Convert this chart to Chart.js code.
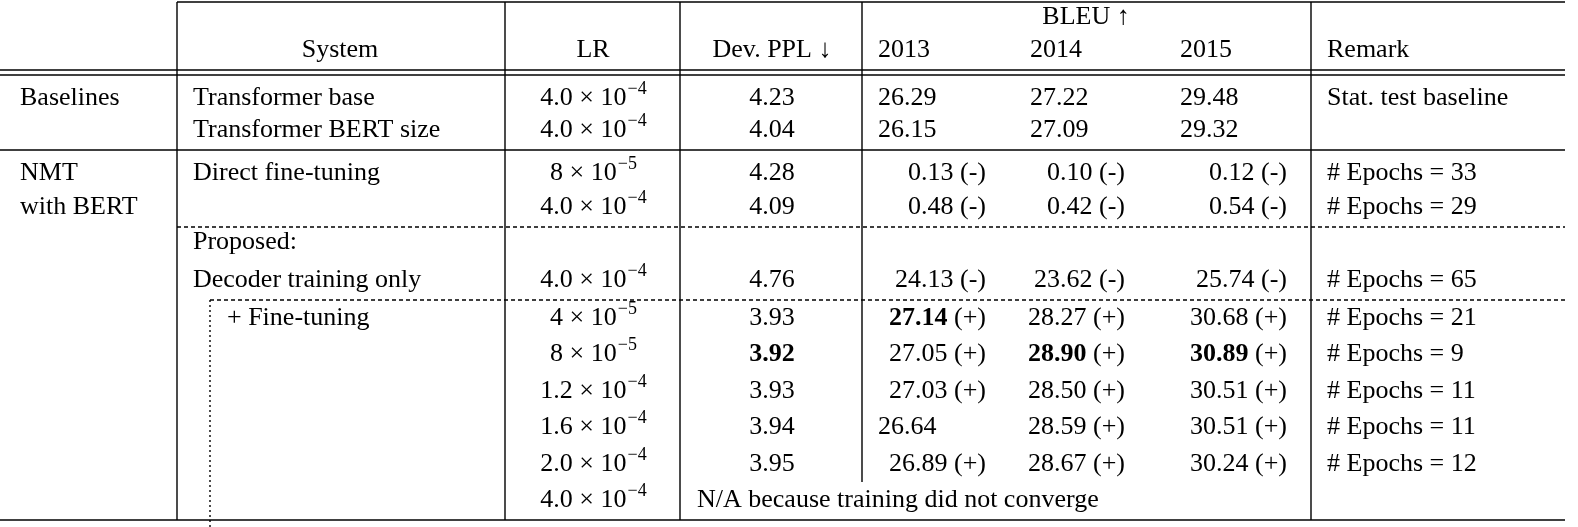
<!DOCTYPE html>
<html>
<head>
<meta charset="utf-8">
<script src="https://cdn.jsdelivr.net/npm/chart.js@4/dist/chart.umd.min.js"></script>
<style>
  html, body { margin: 0; padding: 0; background: #fff; overflow: hidden; }
</style>
</head>
<body>
<canvas id="tbl" width="1578" height="527" style="width:1578px;height:527px;display:block"></canvas>
<script>
// ---- данные таблицы ----
const headers = ['System', 'LR', 'Dev. PPL \u2193', '2013', '2014', '2015', 'Remark'];
const groupTitle = 'BLEU \u2191';
const groups = [['Baselines'], ['NMT', 'with BERT']];
const systems = ['Transformer base', 'Transformer BERT size', 'Direct fine-tuning', '', 'Proposed:',
  'Decoder training only', '+ Fine-tuning', '', '', '', '', ''];
const lrMant = ['4.0', '4.0', '8', '4.0', '', '4.0', '4', '8', '1.2', '1.6', '2.0', '4.0'];
const lrExp = ['-4', '-4', '-5', '-4', '', '-4', '-5', '-5', '-4', '-4', '-4', '-4'];
const ppl = ['4.23', '4.04', '4.28', '4.09', '', '4.76', '3.93', '**3.92**', '3.93', '3.94', '3.95', ''];
const bleu2013 = ['26.29', '26.15', '0.13 (-)', '0.48 (-)', '', '24.13 (-)', '**27.14** (+)', '27.05 (+)', '27.03 (+)', '26.64', '26.89 (+)', ''];
const bleu2014 = ['27.22', '27.09', '0.10 (-)', '0.42 (-)', '', '23.62 (-)', '28.27 (+)', '**28.90** (+)', '28.50 (+)', '28.59 (+)', '28.67 (+)', ''];
const bleu2015 = ['29.48', '29.32', '0.12 (-)', '0.54 (-)', '', '25.74 (-)', '30.68 (+)', '**30.89** (+)', '30.51 (+)', '30.51 (+)', '30.24 (+)', ''];
const remarks = ['Stat. test baseline', '', '# Epochs = 33', '# Epochs = 29', '', '# Epochs = 65',
  '# Epochs = 21', '# Epochs = 9', '# Epochs = 11', '# Epochs = 11', '# Epochs = 12', ''];
const naNote = 'N/A because training did not converge';

// ---- раскладка (в координатах шкал) ----
const rowY = [98, 130, 173, 207, 242, 280, 318, 354, 391, 427, 464, 500];
const headY = 50, groupY = 17;
const FONT = '"Liberation Serif", "DejaVu Serif", serif';
const FS = 26;

function seg(x1, y1, x2, y2, dash) {
  return { type: 'line', data: [{ x: x1, y: y1 }, { x: x2, y: y2 }], borderColor: '#000',
    borderWidth: 1.4, borderDash: dash || [], pointRadius: 0, showLine: true, fill: false };
}
const rules = [
  seg(177, 2, 1565, 2), seg(0, 70, 1565, 70), seg(0, 75, 1565, 75), seg(0, 150, 1565, 150),
  seg(177, 227, 1565, 227, [4, 3]), seg(210, 300, 1565, 300, [4, 3]), seg(0, 520, 1565, 520),
  seg(177, 2, 177, 520), seg(505, 2, 505, 520), seg(680, 2, 680, 520), seg(862, 2, 862, 482),
  seg(1311, 2, 1311, 520), seg(210, 300, 210, 527, [2, 3])
];

/* ---- текст ячеек через шкалы ---- */
function drawRich(ctx, str, x, y, align) {
  const parts = str.split('**').map((t, i) => ({ t, b: i % 2 === 1 })).filter(p => p.t);
  const fontOf = b => (b ? 'bold ' : '') + FS + 'px ' + FONT;
  let w = 0;
  parts.forEach(p => { ctx.font = fontOf(p.b); w += ctx.measureText(p.t).width; });
  let cx = align === 'center' ? x - w / 2 : align === 'right' ? x - w : x;
  ctx.textAlign = 'left';
  parts.forEach(p => { ctx.font = fontOf(p.b); ctx.fillText(p.t, cx, y); cx += ctx.measureText(p.t).width; });
}
function drawLR(ctx, m, e, x, y) {
  if (!m) return;
  ctx.font = FS + 'px ' + FONT;
  const base = m + ' \u00d7 10';
  const supFont = Math.round(FS * 0.7) + 'px ' + FONT;
  const sup = e.replace('-', '\u2212');
  const w1 = ctx.measureText(base).width;
  ctx.font = supFont;
  const w2 = ctx.measureText(sup).width;
  let cx = x - (w1 + w2) / 2;
  ctx.font = FS + 'px ' + FONT; ctx.textAlign = 'left';
  ctx.fillText(base, cx, y);
  ctx.font = supFont;
  ctx.fillText(sup, cx + w1 + 1, y - 9);
}

const cellPlugin = {
  id: 'cells',
  afterDatasetsDraw(chart) {
    const { ctx, scales: { x, y } } = chart;
    const X = v => x.getPixelForValue(v), Y = v => y.getPixelForValue(v);
    ctx.save();
    ctx.fillStyle = '#000';
    ctx.textBaseline = 'middle';
    // шапка
    drawRich(ctx, groupTitle, X(1086), Y(groupY), 'center');
    drawRich(ctx, headers[0], X(340), Y(headY), 'center');
    drawRich(ctx, headers[1], X(593), Y(headY), 'center');
    drawRich(ctx, headers[2], X(772), Y(headY), 'center');
    drawRich(ctx, headers[3], X(878), Y(headY), 'left');
    drawRich(ctx, headers[4], X(1030), Y(headY), 'left');
    drawRich(ctx, headers[5], X(1180), Y(headY), 'left');
    drawRich(ctx, headers[6], X(1327), Y(headY), 'left');
    // группы
    groups[0].forEach((t, i) => drawRich(ctx, t, X(20), Y(rowY[0 + i]), 'left'));
    groups[1].forEach((t, i) => drawRich(ctx, t, X(20), Y(rowY[2 + i]), 'left'));
    const bleuCols = [[bleu2013, 878, 986], [bleu2014, 1030, 1125], [bleu2015, 1180, 1287]];
    rowY.forEach((ry, r) => {
      const py = Y(ry);
      const sx = systems[r].startsWith('+') ? 227 : 193;
      if (systems[r]) drawRich(ctx, systems[r], X(sx), py, 'left');
      drawLR(ctx, lrMant[r], lrExp[r], X(593), py);
      if (ppl[r]) drawRich(ctx, ppl[r], X(772), py, 'center');
      bleuCols.forEach(([arr, l, rt]) => {
        const v = arr[r];
        if (!v) return;
        if (v.includes('(')) drawRich(ctx, v, X(rt), py, 'right');
        else drawRich(ctx, v, X(l), py, 'left');
      });
      if (remarks[r]) drawRich(ctx, remarks[r], X(1327), py, 'left');
    });
    drawRich(ctx, naNote, X(697), Y(rowY[11]), 'left');
    ctx.restore();
  }
};

new Chart(document.getElementById('tbl'), {
  type: 'scatter',
  data: { datasets: rules },
  options: {
    responsive: false,
    animation: false,
    layout: { padding: 0 },
    plugins: { legend: { display: false }, tooltip: { enabled: false } },
    scales: {
      x: { type: 'linear', min: 0, max: 1578, display: false },
      y: { type: 'linear', min: 0, max: 527, reverse: true, display: false }
    }
  },
  plugins: [cellPlugin]
});
</script>
</body>
</html>
